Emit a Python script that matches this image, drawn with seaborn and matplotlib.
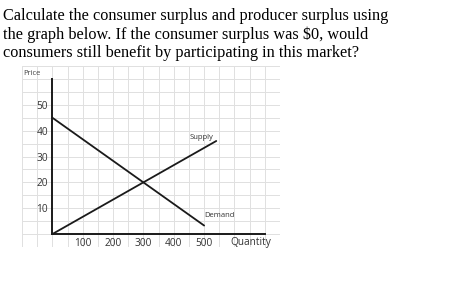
import numpy as np
import pandas as pd
import matplotlib
matplotlib.use('Agg')
import matplotlib.pyplot as plt
import seaborn as sns

# values
demand_q = [0, 500]
demand_p = [45, 3.3]
supply_q = [0, 540]
supply_p = [0, 36]
x_ticks = [100, 200, 300, 400, 500]
y_ticks = [10, 20, 30, 40, 50]

question = ("Calculate the consumer surplus and producer surplus using\n"
            "the graph below. If the consumer surplus was $0, would\n"
            "consumers still benefit by participating in this market?")

sns.set_theme(style='white')
plt.rcParams['font.family'] = ['Open Sans', 'DejaVu Sans']

fig = plt.figure(figsize=(4.74, 3.05), dpi=100)
fig.text(0.006, 1 - 8 / 305, question, family='Liberation Serif', fontsize=11.7,
         va='top', ha='left', linespacing=1.2, color='black')

ax = fig.add_axes([22 / 474, 1 - 247 / 305, 258 / 474, 181 / 305])

lines = pd.concat([
    pd.DataFrame({'q': demand_q, 'p': demand_p, 'curve': 'Demand'}),
    pd.DataFrame({'q': supply_q, 'p': supply_p, 'curve': 'Supply'}),
])
sns.lineplot(data=lines, x='q', y='p', units='curve', estimator=None,
             color='#1a1a1a', lw=1.3, ax=ax, legend=False)

ax.set_xlim(-100, 720)
ax.set_ylim(-5, 65)

# spreadsheet-like grid
ax.set_xticks(np.arange(-100, 751, 50), minor=True)
ax.set_yticks(np.arange(-5, 66, 5), minor=True)
ax.set_xticks(x_ticks)
ax.set_yticks(y_ticks)
ax.grid(True, which='both', color='#e0e0e0', lw=0.7)
ax.set_axisbelow(True)

for s in ['top', 'right']:
    ax.spines[s].set_visible(False)
ax.spines['left'].set_position(('data', 0))
ax.spines['bottom'].set_position(('data', 0))
ax.spines['left'].set_bounds(0, 60)
ax.spines['bottom'].set_bounds(0, 700)
for s in ['left', 'bottom']:
    ax.spines[s].set_color('#1a1a1a')
    ax.spines[s].set_linewidth(1.4)

ax.tick_params(which='both', length=0, labelsize=7.3, colors='#333333')
ax.tick_params(axis='x', pad=3)
ax.tick_params(axis='y', pad=3)
ax.set_xlabel('')
ax.set_ylabel('')

ax.text(-95, 62, 'Price', fontsize=5.5, color='#444444', va='center', ha='left')
ax.text(655, -3.2, 'Quantity', fontsize=7.3, color='#333333', va='center', ha='center')
ax.text(490, 37.5, 'Supply', fontsize=5.5, color='#333333', va='center', ha='center')
ax.text(500, 7.2, 'Demand', fontsize=5.5, color='#333333', va='center', ha='left')

fig.savefig('out.png', dpi=100)
